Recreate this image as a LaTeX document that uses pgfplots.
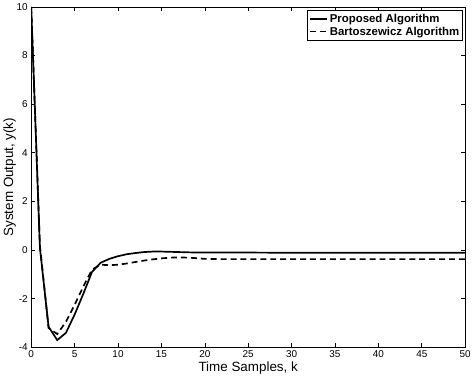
\documentclass[border=0pt]{standalone}
\usepackage{pgfplots}
\pgfplotsset{compat=1.18}
\usepackage{fontspec}
\setmainfont{Liberation Sans}
\begin{document}
\begin{tikzpicture}
\begin{axis}[
  scale only axis,
  width=437pt, height=343pt,
  xmin=0, xmax=50, ymin=-4, ymax=10,
  xtick={0,5,...,50}, ytick={-4,-2,...,10},
  tick align=inside,
  major tick length=4pt,
  tick style={black, line width=0.6pt},
  axis line style={line width=0.6pt},
  /pgf/number format/assume math mode=true,
  tick label style={font=\fontsize{10}{12}\selectfont},
  xlabel={Time Samples, k},
  ylabel={System Output, y(k)},
  label style={font=\fontsize{13.5}{15}\selectfont},
  xlabel style={yshift=3pt},
  ylabel style={yshift=-6pt},
  legend style={at={(0.995,0.99)}, anchor=north east, draw=black, line width=0.6pt,
    font=\bfseries\fontsize{11.5}{12}\selectfont, inner sep=1.5pt, row sep=-1pt},
  legend cell align=left,
  clip=true,
]
\addplot[black, line width=1.7pt] coordinates {
(0,10) (1,0.1) (2,-3.15) (3,-3.7) (4,-3.4) (5,-2.65) (6,-1.8) (7,-0.9) (8,-0.52)
(9,-0.36) (10,-0.25) (11,-0.17) (12,-0.12) (13,-0.08) (14,-0.06) (15,-0.06) (16,-0.07)
(17,-0.08) (18,-0.09) (19,-0.1) (20,-0.1) (25,-0.1) (30,-0.11) (40,-0.11) (50,-0.11)
};
\addlegendentry{Proposed Algorithm}
\addplot[black, line width=1.7pt, dash pattern=on 6pt off 4pt] coordinates {
(0,10) (1,0.2) (2,-3.2) (3,-3.45) (4,-2.95) (5,-2.25) (6,-1.5) (7,-0.8) (8,-0.6)
(9,-0.62) (10,-0.6) (11,-0.55) (12,-0.49) (13,-0.43) (14,-0.38) (15,-0.34) (16,-0.31)
(17,-0.3) (18,-0.31) (19,-0.33) (20,-0.36) (22,-0.37) (25,-0.37) (30,-0.37) (40,-0.37) (50,-0.37)
};
\addlegendentry{Bartoszewicz Algorithm}
\end{axis}
\end{tikzpicture}
\end{document}
